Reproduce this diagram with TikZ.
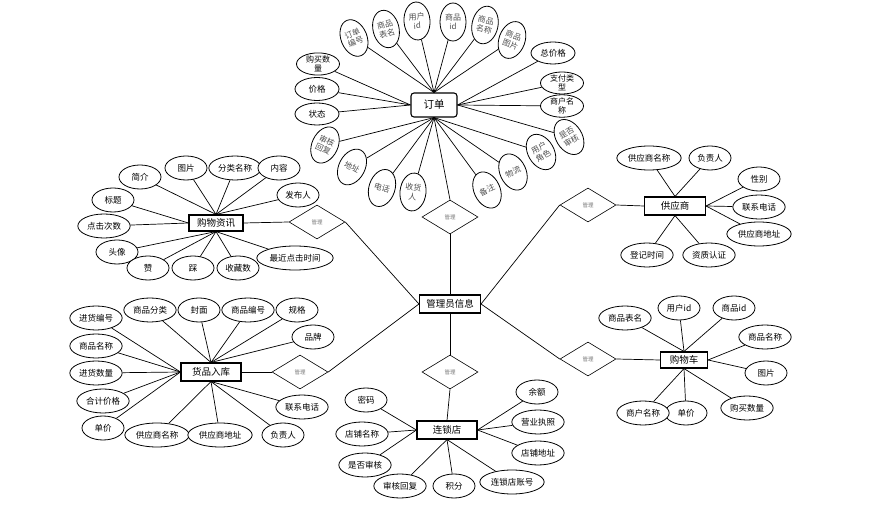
\documentclass[tikz,border=0pt]{standalone}
\usepackage{fontspec}
\setmainfont{Noto Sans CJK SC}
\usetikzlibrary{shapes.geometric}
\definecolor{relText}{RGB}{120,120,120}
\definecolor{tiltText}{RGB}{80,80,80}
\tikzstyle{diagram} = [x = 1pt, y = -1pt]
\tikzstyle{linkLine} = [color=black, line width=.7pt]
\tikzstyle{entityStyle} = [draw, rectangle, line width=1.1pt, fill=white, inner sep=0pt, font=\fontsize{9.5}{10}\selectfont]
\tikzstyle{orderStyle} = [entityStyle, rounded corners=3pt, minimum width=46pt, minimum height=24pt, font=\fontsize{10.5}{11}\selectfont]
\tikzstyle{relStyle} = [draw, diamond, line width=.6pt, inner sep=0pt, minimum width=56pt, minimum height=34pt, text=relText, font=\fontsize{5.5}{6}\selectfont]
\tikzstyle{attrStyle} = [draw, ellipse, line width=.8pt, fill=white, inner xsep=1.5pt, inner ysep=0pt, minimum width=42pt, minimum height=24pt, align=center, font=\fontsize{8.5}{9}\selectfont]
\tikzstyle{tiltStyle} = [attrStyle, inner sep=0pt, minimum width=26pt, minimum height=38pt, text=tiltText, font=\fontsize{8}{9}\selectfont]
\newcommand{\attribute}[5][]{
  \node [attrStyle, #1] (#2) at (#3) {#4};
  \draw [linkLine] (#5) -- (#2);
}
\newcommand{\tiltAttribute}[5]{
  \node [tiltStyle, rotate=#5] (#1) at (#2) {#3};
  \draw [linkLine] (#4) -- (#1);
}

\begin{document}
\begin{tikzpicture}[diagram]
  \useasboundingbox (0,0) rectangle (881,510);

  % entities
  \node [entityStyle, minimum width=61pt, minimum height=18pt] (glxx) at (450,304) {管理员信息};
  \node [orderStyle] (dd) at (434,105) {订单};
  \node [entityStyle, minimum width=54pt, minimum height=16pt] (gwzx) at (216,223) {购物资讯};
  \node [entityStyle, minimum width=61pt, minimum height=18pt] (gys) at (675,206) {供应商};
  \node [entityStyle, minimum width=60pt, minimum height=18pt] (hprk) at (211,372) {货品入库};
  \node [entityStyle, minimum width=60pt, minimum height=18pt] (lsd) at (447,430) {连锁店};
  \node [entityStyle, minimum width=47pt, minimum height=16pt] (gwc) at (684,360) {购物车};

  % relations
  \node [relStyle] (glTop) at (450,217) {管理};
  \node [relStyle] (glBottom) at (450,372) {管理};
  \node [relStyle] (glLeftTop) at (317,222) {管理};
  \node [relStyle] (glLeftBottom) at (300,372) {管理};
  \node [relStyle] (glRightTop) at (588,205) {管理};
  \node [relStyle] (glRightBottom) at (588,359) {管理};
  \draw [linkLine] (dd.south) -- (glTop.north);
  \draw [linkLine] (glTop.south) -- (glxx.north);
  \draw [linkLine] (glxx.south) -- (glBottom.north);
  \draw [linkLine] (glBottom.south) -- (lsd.north);
  \draw [linkLine] (gwzx.east) -- (glLeftTop.west);
  \draw [linkLine] (glLeftTop.east) -- (glxx.west);
  \draw [linkLine] (hprk.east) -- (glLeftBottom.west);
  \draw [linkLine] (glLeftBottom.east) -- (glxx.west);
  \draw [linkLine] (gys.west) -- (glRightTop.east);
  \draw [linkLine] (glRightTop.west) -- (glxx.east);
  \draw [linkLine] (gwc.west) -- (glRightBottom.east);
  \draw [linkLine] (glRightBottom.west) -- (glxx.east);

  % 订单
  \tiltAttribute{ddbh}{354,38}{订单\\编号}{dd.north}{22}
  \tiltAttribute{spbm}{386,29}{商品\\表名}{dd.north}{14}
  \tiltAttribute{yhid}{417,21}{用户\\id}{dd.north}{4}
  \tiltAttribute{spid}{453,22}{商品\\id}{dd.north}{0}
  \tiltAttribute{spmc}{485,25}{商品\\名称}{dd.north}{-12}
  \tiltAttribute{sptp}{512,40}{商品\\图片}{dd.north}{-20}
  \attribute[minimum width=43pt, minimum height=22pt, font=\fontsize{8}{8.5}\selectfont]{gmsl}{318,64}{购买数\\量}{dd.west}
  \attribute[minimum width=44pt, minimum height=23pt]{jg}{317,89}{价格}{dd.west}
  \attribute[minimum width=44pt, minimum height=22pt]{zt}{317,114}{状态}{dd.west}
  \attribute[minimum width=44pt, minimum height=22pt]{zjg}{553,53}{总价格}{dd.east}
  \attribute[minimum width=43pt, minimum height=22pt, font=\fontsize{8}{8.5}\selectfont]{zflx}{562,83}{支付类\\型}{dd.east}
  \attribute[minimum width=43pt, minimum height=22pt, font=\fontsize{8}{8.5}\selectfont]{shmc}{562,106}{商户名\\称}{dd.east}
  \tiltAttribute{sfsh}{569,137}{是否\\审核}{dd.east}{32}
  \tiltAttribute{yhjs}{541,152}{用户\\角色}{dd.south}{30}
  \tiltAttribute{wl}{513,172}{物流}{dd.south}{25}
  \tiltAttribute{bz}{487,190}{备注}{dd.south}{25}
  \tiltAttribute{shr}{413,192}{收货\\人}{dd.south}{-6}
  \tiltAttribute{dh}{382,188}{电话}{dd.south}{-18}
  \tiltAttribute{dz}{352,167}{地址}{dd.south}{-28}
  \tiltAttribute{shhf}{325,145}{审核\\回复}{dd.south}{-25}

  % 购物资讯
  \attribute{jj}{140,177}{简介}{gwzx.north}
  \attribute{tp}{186,168}{图片}{gwzx.north}
  \attribute{flmc}{235,168}{分类名称}{gwzx.north}
  \attribute{nr}{279,168}{内容}{gwzx.north}
  \attribute{fbr}{298,195}{发布人}{gwzx.north}
  \attribute{bt}{113,200}{标题}{gwzx.west}
  \attribute{djcs}{104,226}{点击次数}{gwzx.west}
  \attribute{tx}{117,252}{头像}{gwzx.south}
  \attribute{zan}{148,268}{赞}{gwzx.south}
  \attribute{cai}{193,268}{踩}{gwzx.south}
  \attribute{scs}{238,268}{收藏数}{gwzx.south}
  \attribute{zjdjsj}{295,258}{最近点击时间}{gwzx.south}

  % 供应商
  \attribute{gysmc}{649,158}{供应商名称}{gys.north}
  \attribute{fzr}{710,158}{负责人}{gys.north}
  \attribute{xb}{759,179}{性别}{gys.east}
  \attribute{lxdh}{759,207}{联系电话}{gys.east}
  \attribute{gysdz}{759,234}{供应商地址}{gys.east}
  \attribute{djsj}{647,255}{登记时间}{gys.south}
  \attribute{zzrz}{709,255}{资质认证}{gys.south}

  % 货品入库
  \attribute{jhbh}{96,318}{进货编号}{hprk.west}
  \attribute{spfl}{150,310}{商品分类}{hprk.north}
  \attribute{fm}{199,310}{封面}{hprk.north}
  \attribute{spbh}{248,310}{商品编号}{hprk.north}
  \attribute{gg}{297,310}{规格}{hprk.north}
  \attribute{pp}{313,337}{品牌}{hprk.north}
  \attribute{spmcHp}{96,346}{商品名称}{hprk.west}
  \attribute{jhsl}{96,373}{进货数量}{hprk.west}
  \attribute{hjjg}{103,401}{合计价格}{hprk.west}
  \attribute{dj}{103,428}{单价}{hprk.west}
  \attribute{gysmcHp}{157,435}{供应商名称}{hprk.south}
  \attribute{gysdzHp}{220,435}{供应商地址}{hprk.south}
  \attribute{fzrHp}{283,435}{负责人}{hprk.south}
  \attribute{lxdhHp}{302,407}{联系电话}{hprk.south}

  % 连锁店
  \attribute{mm}{366,400}{密码}{lsd.west}
  \attribute{dpmc}{362,434}{店铺名称}{lsd.west}
  \attribute{sfshLs}{365,465}{是否审核}{lsd.west}
  \attribute{shhfLs}{400,486}{审核回复}{lsd.south}
  \attribute{jf}{454,486}{积分}{lsd.south}
  \attribute{lsdzh}{512,482}{连锁店账号}{lsd.south}
  \attribute{dpdz}{538,453}{店铺地址}{lsd.east}
  \attribute{yyzz}{538,422}{营业执照}{lsd.east}
  \attribute{ye}{537,392}{余额}{lsd.east}

  % 购物车
  \attribute{spbmGw}{625,318}{商品表名}{gwc.north}
  \attribute{yhidGw}{679,308}{用户id}{gwc.north}
  \attribute{spidGw}{734,308}{商品id}{gwc.north}
  \attribute{spmcGw}{765,337}{商品名称}{gwc.east}
  \attribute{tpGw}{766,373}{图片}{gwc.east}
  \attribute{gmslGw}{747,408}{购买数量}{gwc.south}
  \attribute{djGw}{686,413}{单价}{gwc.south}
  \attribute{shmcGw}{643,413}{商户名称}{gwc.south}
\end{tikzpicture}
\end{document}
